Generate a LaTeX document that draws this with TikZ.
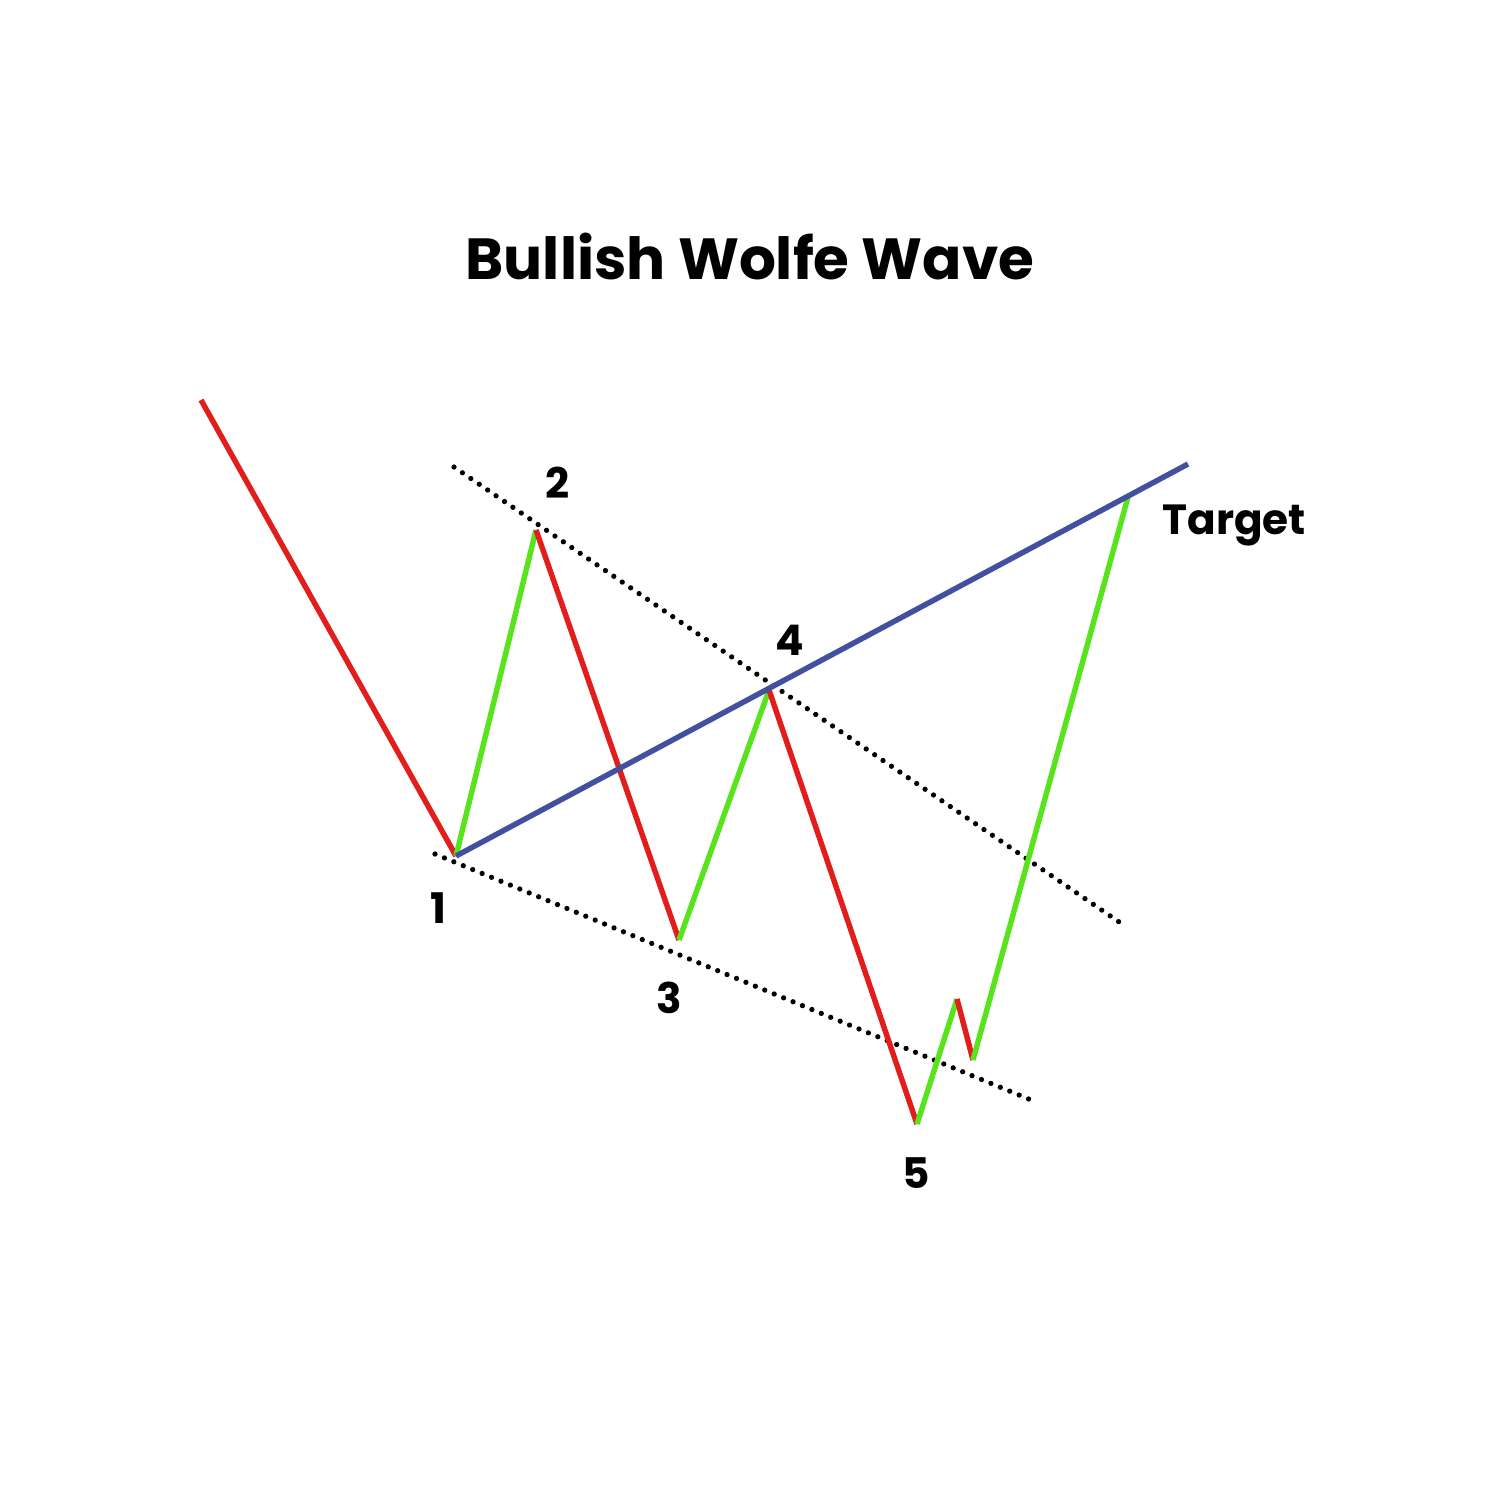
\documentclass[tikz,border=0pt]{standalone}
\usepackage{fontspec}
\setmainfont{Poppins}
\definecolor{wred}{RGB}{226,30,28}
\definecolor{wgreen}{RGB}{88,228,28}
\definecolor{wblue}{RGB}{66,80,160}
\tikzset{
  px/.style={x=0.1mm,y=-0.1mm},
  upleg/.style={wgreen,line width=1.55pt,line join=round},
  downleg/.style={wred,line width=1.55pt,line join=round},
  trend/.style={wblue,line width=1.55pt},
  dotline/.style={black,line width=1.5pt,line cap=round,dash pattern=on 0pt off 2.9pt},
  lbl/.style={font=\bfseries\fontsize{12}{14}\selectfont,inner sep=0pt}
}
\begin{document}
\begin{tikzpicture}[px]
\useasboundingbox (0,0) rectangle (1500,1500);
\fill[white] (0,0) rectangle (1500,1500);
\node[font=\bfseries\fontsize{16.5}{20}\selectfont,inner sep=0pt] (title) at (750,257) {Bullish Wolfe Wave};
\coordinate (s) at (201,400);
\coordinate (p1) at (456,856);
\coordinate (p2) at (536,530);
\coordinate (p3) at (679,940);
\coordinate (p4) at (769,690);
\coordinate (p5) at (917,1124);
\coordinate (a) at (957,999);
\coordinate (b) at (973,1060);
\coordinate (t) at (1128,497);
\coordinate (be) at (1188,464);
\coordinate (u1) at (454,467);
\coordinate (u2) at (1125,926);
\coordinate (l1) at (435,854);
\coordinate (l2) at (1036,1102);
\draw[dotline] (u1) -- (u2);
\draw[dotline] (l1) -- (l2);
\draw[downleg] (s) -- (p1);
\draw[upleg] (p1) -- (p2);
\draw[downleg] (p2) -- (p3);
\draw[upleg] (p3) -- (p4);
\draw[downleg] (p4) -- (p5);
\draw[upleg] (p5) -- (a);
\draw[downleg] (a) -- (b);
\draw[upleg] (b) -- (t);
\draw[trend] (p1) -- (be);
\node[lbl] (n1) at (438,908) {1};
\node[lbl] (n2) at (558,483) {2};
\node[lbl] (n3) at (669,998) {3};
\node[lbl] (n4) at (790,640) {4};
\node[lbl] (n5) at (916,1173) {5};
\node[lbl,anchor=west] (nt) at (1162,525) {Target};
\end{tikzpicture}
\end{document}
